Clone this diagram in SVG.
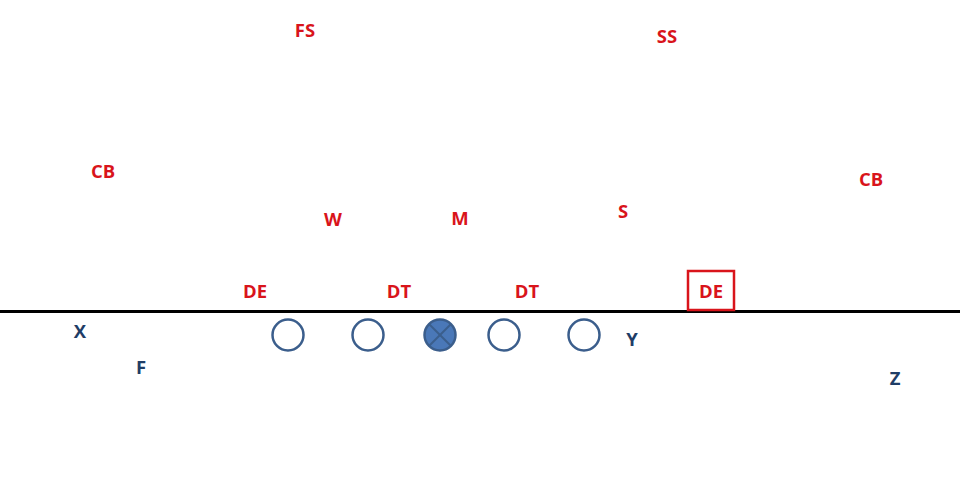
<svg xmlns="http://www.w3.org/2000/svg" width="960" height="504" viewBox="0 0 960 504">
<style>
.d{font-family:"Open Sans","Liberation Sans",sans-serif;font-weight:bold;font-size:18.5px;fill:#D9141B;text-anchor:middle;dominant-baseline:central}
.o{font-family:"Open Sans","Liberation Sans",sans-serif;font-weight:bold;font-size:18.5px;fill:#1F3D66;text-anchor:middle;dominant-baseline:central}
.p{fill:none;stroke:#3B5E8C;stroke-width:2.5}
</style>
<rect width="960" height="504" fill="#fff"/>
<g id="connectors">
<line x1="0" y1="311.5" x2="960" y2="311.5" stroke="#000" stroke-width="3"/>
</g>
<g id="FS"><text class="d" x="305" y="29">FS</text></g>
<g id="SS"><text class="d" x="667" y="35">SS</text></g>
<g id="CB1"><text class="d" x="103" y="170">CB</text></g>
<g id="CB2"><text class="d" x="871" y="178">CB</text></g>
<g id="W"><text class="d" x="333" y="218">W</text></g>
<g id="M"><text class="d" x="460" y="217">M</text></g>
<g id="S"><text class="d" x="623" y="210">S</text></g>
<g id="DE1"><text class="d" x="255" y="290">DE</text></g>
<g id="DT1"><text class="d" x="399" y="290">DT</text></g>
<g id="DT2"><text class="d" x="527" y="290">DT</text></g>
<g id="DE2"><rect x="688" y="271" width="46" height="39" fill="none" stroke="#D9141B" stroke-width="2.5"/><text class="d" x="711" y="290">DE</text></g>
<g id="LT"><circle class="p" cx="288" cy="335" r="15.5"/></g>
<g id="LG"><circle class="p" cx="368" cy="335" r="15.5"/></g>
<g id="C"><circle cx="440" cy="335" r="15.5" fill="#4A78B8" stroke="#3B5E8C" stroke-width="2.5"/><line x1="429" y1="324" x2="451" y2="346" stroke="#3B5E8C" stroke-width="2"/><line x1="451" y1="324" x2="429" y2="346" stroke="#3B5E8C" stroke-width="2"/></g>
<g id="RG"><circle class="p" cx="504" cy="335" r="15.5"/></g>
<g id="RT"><circle class="p" cx="584" cy="335" r="15.5"/></g>
<g id="X"><text class="o" x="80" y="330">X</text></g>
<g id="F"><text class="o" x="141" y="366">F</text></g>
<g id="Y"><text class="o" x="632" y="338">Y</text></g>
<g id="Z"><text class="o" x="895" y="377">Z</text></g>
</svg>
